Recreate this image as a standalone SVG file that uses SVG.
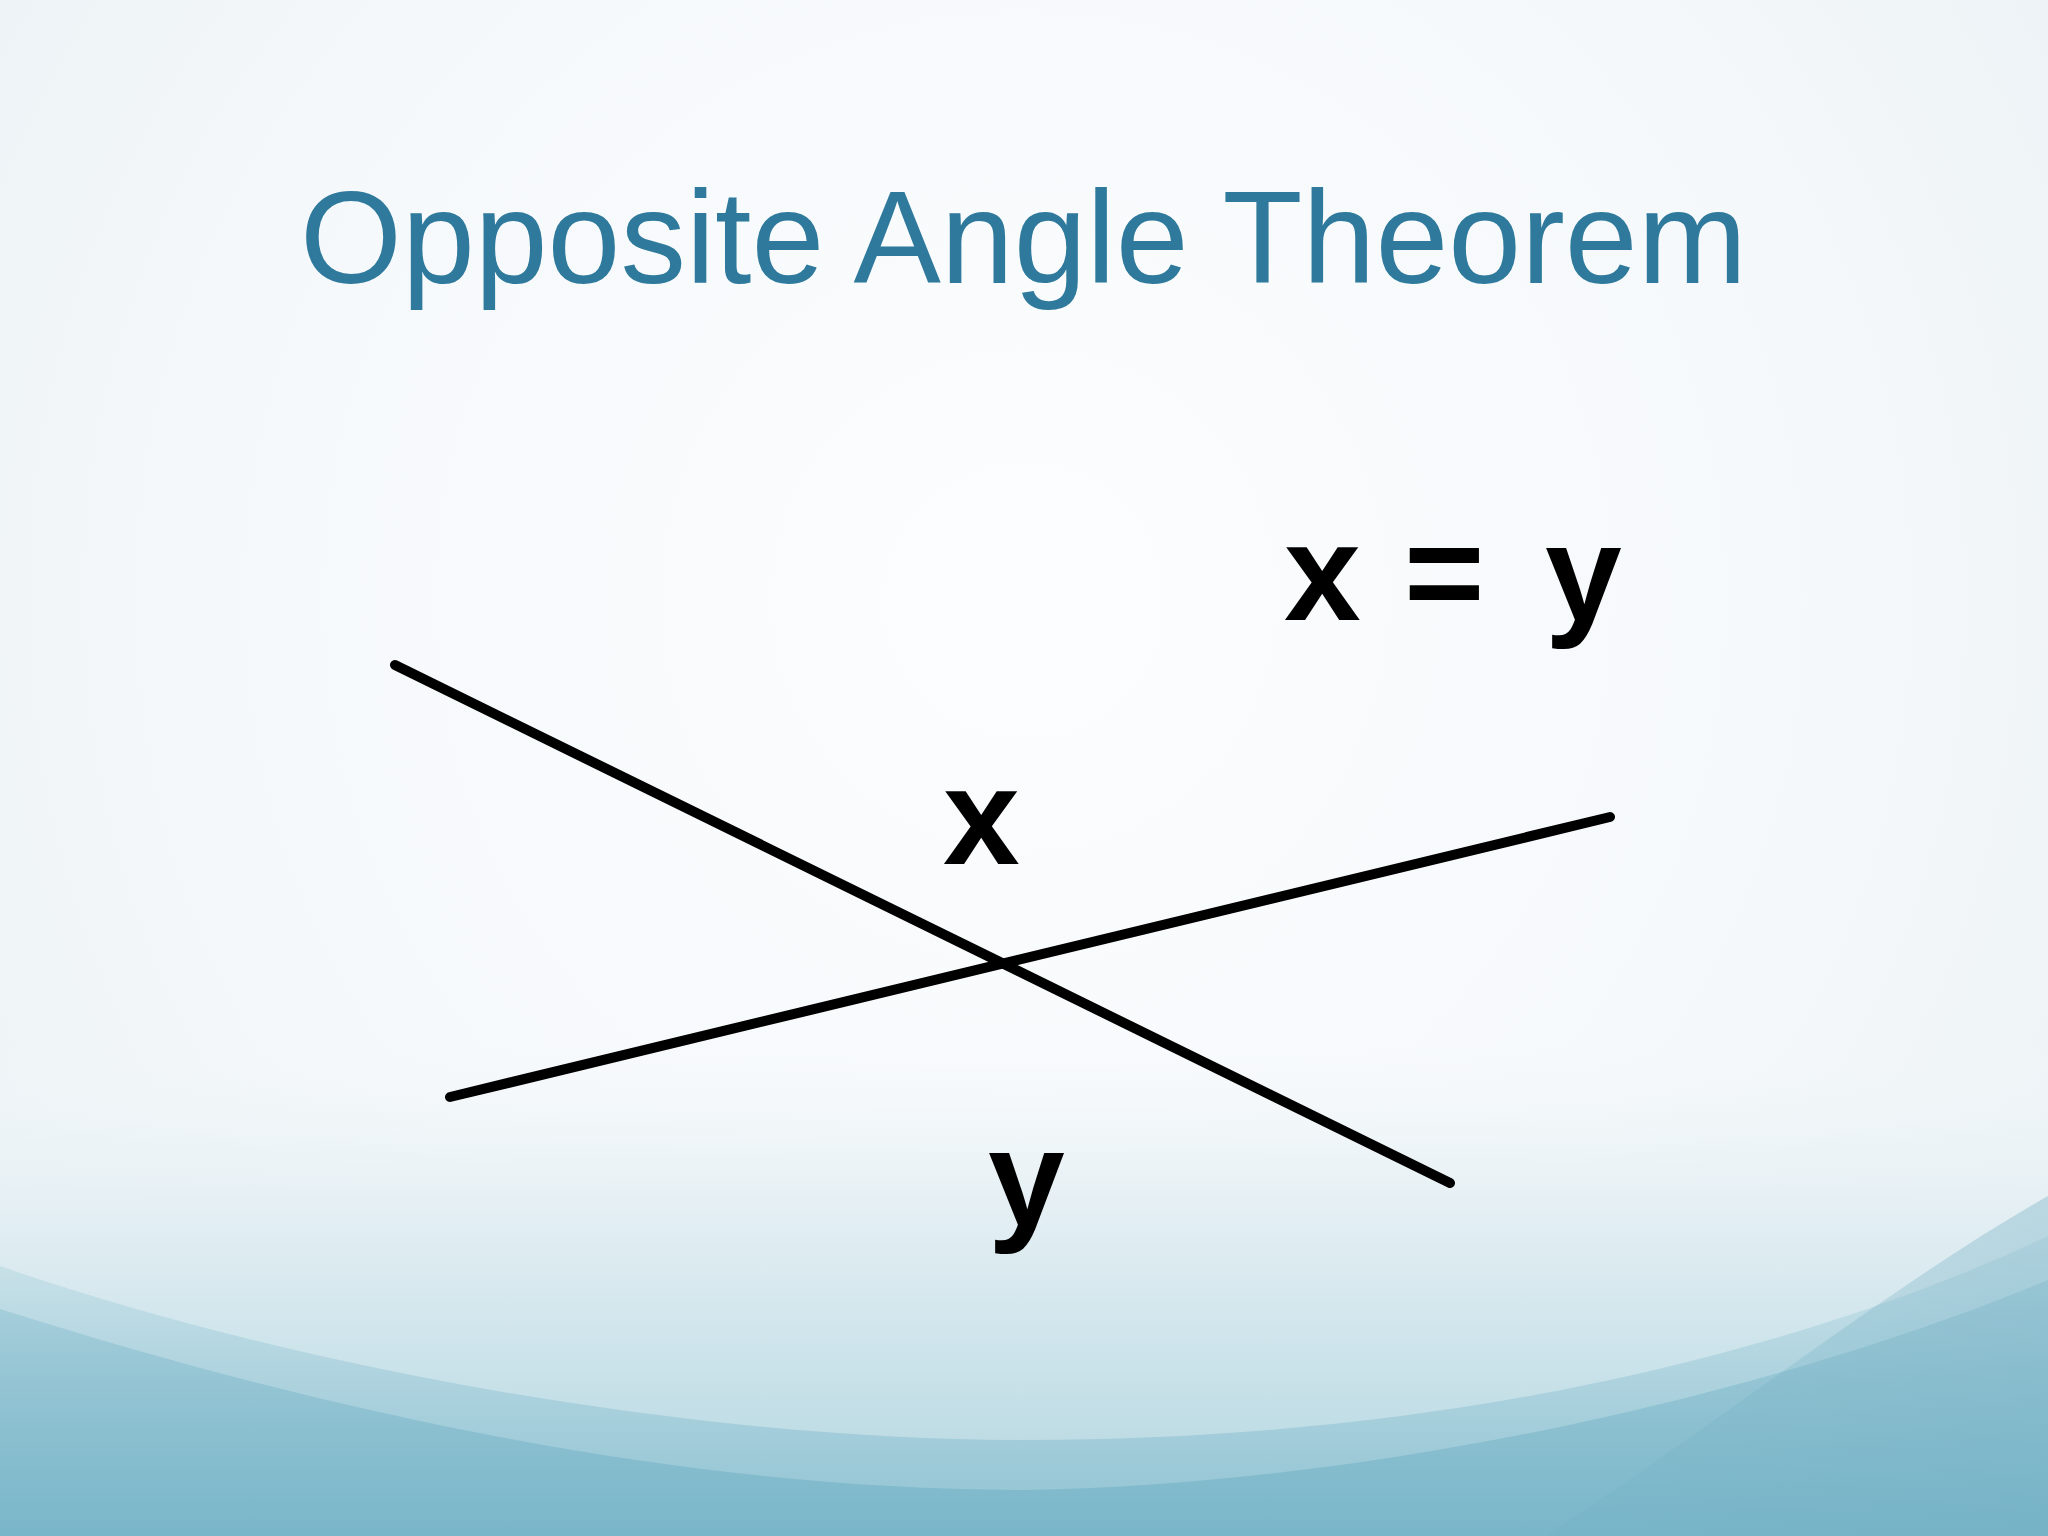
<svg xmlns="http://www.w3.org/2000/svg" width="2048" height="1536" viewBox="0 0 2048 1536">
  <defs>
    <style>
      .title { font-family: "Liberation Sans", Arial, sans-serif; font-size: 131px; fill: #2F7A9C; }
      .lbl { font-family: "Liberation Sans", Arial, sans-serif; font-size: 138px; font-weight: bold; fill: #000; }
      .ln { stroke: #000; stroke-width: 10; stroke-linecap: round; fill: none; }
    </style>
    <radialGradient id="bgTop" cx="1024" cy="600" r="1250" gradientUnits="userSpaceOnUse">
      <stop offset="0" stop-color="#FBFDFE"/>
      <stop offset="0.6" stop-color="#F6F9FB"/>
      <stop offset="1" stop-color="#ECF2F6"/>
    </radialGradient>
    <linearGradient id="bgBottom" x1="0" y1="0" x2="0" y2="1536" gradientUnits="userSpaceOnUse">
      <stop offset="0" stop-color="#FFFFFF" stop-opacity="0"/>
      <stop offset="0.68" stop-color="#F2F7F9" stop-opacity="0"/>
      <stop offset="0.78" stop-color="#E6F0F4" stop-opacity="1"/>
      <stop offset="0.9" stop-color="#C8E1E9" stop-opacity="1"/>
      <stop offset="1" stop-color="#AFD3DE" stop-opacity="1"/>
    </linearGradient>
    <linearGradient id="waveA" x1="0" y1="1236" x2="0" y2="1536" gradientUnits="userSpaceOnUse">
      <stop offset="0" stop-color="#9CCAD8" stop-opacity="0.25"/>
      <stop offset="1" stop-color="#86BDCE" stop-opacity="0.75"/>
    </linearGradient>
    <linearGradient id="waveB" x1="0" y1="1280" x2="0" y2="1536" gradientUnits="userSpaceOnUse">
      <stop offset="0" stop-color="#78B4C7" stop-opacity="0.3"/>
      <stop offset="1" stop-color="#6AAEC3" stop-opacity="0.6"/>
    </linearGradient>
    <linearGradient id="waveC" x1="2048" y1="1200" x2="1600" y2="1536" gradientUnits="userSpaceOnUse">
      <stop offset="0" stop-color="#6AAABF" stop-opacity="0.35"/>
      <stop offset="1" stop-color="#6AAABF" stop-opacity="0.15"/>
    </linearGradient>
  </defs>

  <g id="background">
    <rect x="0" y="0" width="2048" height="1536" fill="url(#bgTop)"/>
    <rect x="0" y="0" width="2048" height="1536" fill="url(#bgBottom)"/>
    <path d="M0,1266 C300,1370 700,1440 1024,1440 C1500,1440 1850,1330 2048,1236 L2048,1536 L0,1536 Z" fill="url(#waveA)"/>
    <path d="M0,1309 C350,1420 700,1490 1024,1490 C1400,1484 1800,1384 2048,1280 L2048,1536 L0,1536 Z" fill="url(#waveB)"/>
    <path d="M1546,1536 C1750,1400 1900,1280 2048,1196 L2048,1536 Z" fill="url(#waveC)"/>
  </g>

  <g id="title">
    <text class="title" x="300" y="283">Opposite Angle Theorem</text>
  </g>

  <g id="connectors">
    <line class="ln" x1="395" y1="665" x2="1450" y2="1183"/>
    <line class="ln" x1="450" y1="1097" x2="1610" y2="817"/>
  </g>

  <g id="label-x">
    <text class="lbl" x="943" y="864">x</text>
  </g>
  <g id="label-y">
    <text class="lbl" x="988" y="1225">y</text>
  </g>
  <g id="equation">
    <text class="lbl" y="620"><tspan x="1284">x</tspan><tspan x="1404">=</tspan><tspan x="1545">y</tspan></text>
  </g>
</svg>
